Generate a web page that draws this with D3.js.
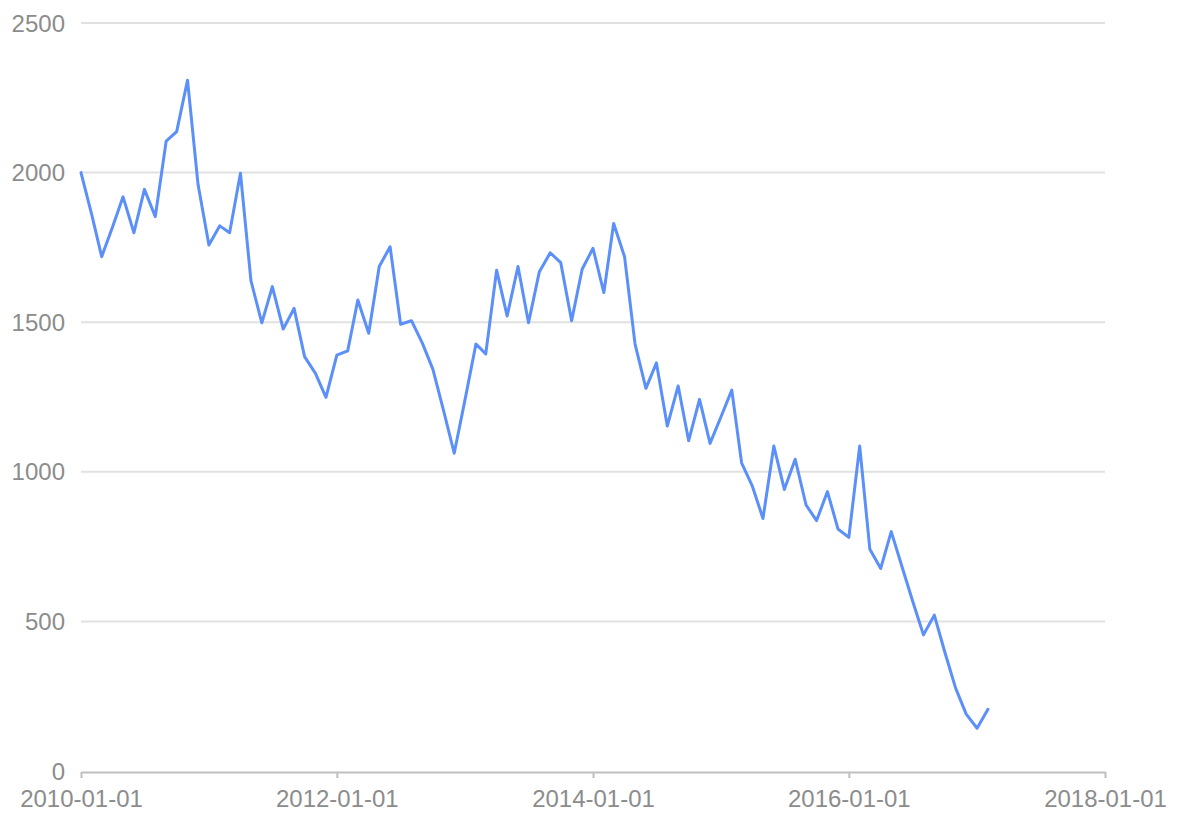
<!DOCTYPE html>
<html>
<head>
<meta charset="utf-8">
<script src="https://cdn.jsdelivr.net/npm/d3@7"></script>
<style>
  html, body { margin: 0; padding: 0; background: #fff; }
  svg { display: block; }
  text { font-family: "Liberation Sans", Arial, Helvetica, sans-serif; }
</style>
</head>
<body>
<svg id="chart" width="1182" height="838"></svg>
<script>
// Monthly series starting 2010-01
const startMonth = "2010-01";
const values = [
  2000, 1858, 1719, 1818, 1919, 1799, 1944, 1853, 2105, 2137, 2309, 1960,
  1758, 1822, 1799, 1998, 1638, 1498, 1619, 1477, 1546, 1385, 1329, 1249,
  1390, 1404, 1574, 1463, 1686, 1752, 1493, 1505, 1430, 1343, 1203, 1062,
  1242, 1427, 1394, 1674, 1521, 1686, 1498, 1669, 1732, 1699, 1505, 1677,
  1747, 1599, 1830, 1719, 1427, 1279, 1364, 1153, 1287, 1104, 1242, 1095,
  1183, 1273, 1030, 951, 844, 1086, 941, 1042, 889, 837, 934, 809,
  781, 1086, 741, 677, 800, 682, 568, 455, 521, 397, 276, 190,
  143, 206
];
const xDomain = ["2010-01-01", "2018-01-01"];
const xTickDates = ["2010-01-01", "2012-01-01", "2014-01-01", "2016-01-01", "2018-01-01"];
const yTicks = [0, 500, 1000, 1500, 2000, 2500];

const parse = d3.timeParse("%Y-%m-%d");
const fmt = d3.timeFormat("%Y-%m-%d");
const start = d3.timeParse("%Y-%m")(startMonth);
const data = values.map((v, i) => ({ date: d3.timeMonth.offset(start, i), value: v }));

const svg = d3.select("#chart");
const mLeft = 81, mRight = 1105, mTop = 23, mBottom = 771;

const x = d3.scaleTime().domain(xDomain.map(parse)).range([mLeft, mRight]);
const y = d3.scaleLinear().domain([0, 2500]).range([mBottom, mTop]);

// grid lines
svg.append("g")
  .selectAll("line")
  .data(yTicks.filter(t => t > 0))
  .join("line")
  .attr("x1", mLeft).attr("x2", mRight)
  .attr("y1", d => y(d)).attr("y2", d => y(d))
  .attr("stroke", "#e1e1e1").attr("stroke-width", 2);

// y labels
svg.append("g")
  .selectAll("text")
  .data(yTicks)
  .join("text")
  .attr("x", 65)
  .attr("y", d => y(d))
  .attr("dy", "0.36em")
  .attr("text-anchor", "end")
  .attr("fill", "#8c8c8c")
  .attr("font-size", 24)
  .text(d => d);

// x axis
const xAxis = d3.axisBottom(x)
  .tickValues(xTickDates.map(parse))
  .tickFormat(fmt)
  .tickSize(6)
  .tickSizeOuter(0)
  .tickPadding(12);
const gx = svg.append("g").attr("transform", `translate(0,${mBottom + 1})`).call(xAxis);
gx.select(".domain").attr("stroke", "#bfbfbf").attr("stroke-width", 2);
gx.selectAll(".tick line").attr("stroke", "#bfbfbf").attr("stroke-width", 2);
gx.selectAll(".tick text")
  .attr("fill", "#8c8c8c")
  .attr("font-size", 24)
  .attr("font-family", "'Liberation Sans', Arial, Helvetica, sans-serif");

// line
const line = d3.line().x(d => x(d.date)).y(d => y(d.value));
svg.append("path")
  .datum(data)
  .attr("d", line)
  .attr("fill", "none")
  .attr("stroke", "#5B8FF9")
  .attr("stroke-width", 3)
  .attr("stroke-linejoin", "round")
  .attr("stroke-linecap", "round");
</script>
</body>
</html>
